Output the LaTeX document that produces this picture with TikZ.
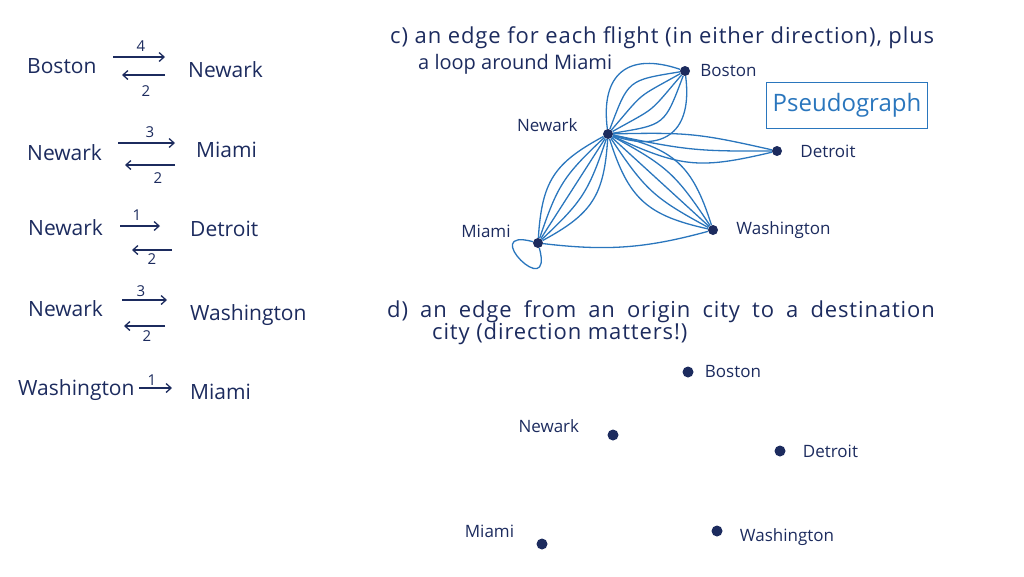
\documentclass[tikz,border=0pt]{standalone}
\usepackage{fontspec}
\setmainfont{Open Sans}
\newfontfamily\hand[LetterSpace=4]{Open Sans}
\usetikzlibrary{positioning, arrows.meta}
\definecolor{ink}{HTML}{1C2B5E}
\definecolor{pen}{HTML}{2A76BD}

\tikzset{
	city/.style={font=\fontsize{21}{24}\selectfont, text=ink, inner sep=0pt, anchor=west},
	num/.style={font=\fontsize{15}{16}\selectfont, text=ink, inner sep=1pt},
	flight/.style={ink, line width=1.3pt, -{Straight Barb[length=5pt, width=9pt]}},
	place/.style={font=\fontsize{17}{19}\selectfont, text=ink, inner sep=0pt},
	note/.style={font=\hand\fontsize{22}{24}\selectfont, text=ink, inner sep=0pt, anchor=west},
	vert/.style={circle, fill=ink, inner sep=0pt, minimum size=10pt},
	dot/.style={circle, fill=ink, inner sep=0pt, minimum size=11pt},
	multi/.style={pen, line width=1.3pt},
}

\begin{document}
\begin{tikzpicture}[x=1pt, y=-1pt]
	\useasboundingbox (0,0) rectangle (1024,576);

	%flights
	\node[city] (bos1) at (27,66) {Boston};
	\node[city] (new1) at (188,70) {Newark};
	\node[num] (f1) at (141,46) {4};
	\node[num] (b1) at (146,91) {2};
	\draw[flight] ([shift={(-28,11)}]f1.center) -- ([shift={(24,11)}]f1.center);
	\draw[flight] ([shift={(19,-16)}]b1.center) -- ([shift={(-24,-16)}]b1.center);

	\node[city] (new2) at (27,153) {Newark};
	\node[city] (mia2) at (196,150) {Miami};
	\node[num] (f2) at (150,132) {3};
	\node[num] (b2) at (158,178) {2};
	\draw[flight] ([shift={(-32,11)}]f2.center) -- ([shift={(25,11)}]f2.center);
	\draw[flight] ([shift={(17,-13)}]b2.center) -- ([shift={(-33,-13)}]b2.center);

	\node[city] (new3) at (28,228) {Newark};
	\node[city] (det3) at (190,229) {Detroit};
	\node[num] (f3) at (137,215) {1};
	\node[num] (b3) at (152,259) {2};
	\draw[flight] ([shift={(-17,11)}]f3.center) -- ([shift={(23,11)}]f3.center);
	\draw[flight] ([shift={(20,-9)}]b3.center) -- ([shift={(-20,-9)}]b3.center);

	\node[city] (new4) at (28,309) {Newark};
	\node[city] (was4) at (190,315) {Washington};
	\node[num] (f4) at (141,291) {3};
	\node[num] (b4) at (147,336) {2};
	\draw[flight] ([shift={(-19,9)}]f4.center) -- ([shift={(26,9)}]f4.center);
	\draw[flight] ([shift={(18,-10)}]b4.center) -- ([shift={(-23,-10)}]b4.center);

	\node[city] (was5) at (18,390) {Washington};
	\node[city] (mia5) at (190,392) {Miami};
	\node[num] (f5) at (152,380) {1};
	\draw[flight] ([shift={(-13,8)}]f5.center) -- ([shift={(20,8)}]f5.center);

	%part c
	\node[note] (partc) at (390,38) {c) an edge for each flight (in either direction), plus};
	\node[note, font=\fontsize{20}{22}\selectfont] (partc2) at (418,64) {a loop around Miami};
	\node[draw=pen, thick, text=pen, font=\fontsize{24}{26}\selectfont, minimum width=161, minimum height=46] (pseudo) at (847,105) {Pseudograph};

	\node[vert] (bos) at (685,71) {};
	\node[vert] (nwk) at (608,134) {};
	\node[vert] (det) at (777,151) {};
	\node[vert] (mia) at (538,243) {};
	\node[vert] (was) at (713,230) {};
	\node[place, right=10pt of bos] {Boston};
	\node[place, left=25pt of nwk, yshift=9pt] {Newark};
	\node[place, right=18pt of det] {Detroit};
	\node[place, left=22pt of mia, yshift=12pt] {Miami};
	\node[place, right=18pt of was] {Washington};

	\foreach \b in {-58,-30,-10,10,30,58}
		\draw[multi] (nwk) to[bend left=\b, looseness=1.5] (bos);
	\foreach \b in {-29,-14,0,14,29}
		\draw[multi] (nwk) to[bend left=\b, looseness=1.2] (mia);
	\foreach \b in {-30,-14,0,14,30}
		\draw[multi] (nwk) to[bend left=\b, looseness=1.2] (was);
	\foreach \b in {7,-6,-19}
		\draw[multi] (nwk) to[bend left=\b, looseness=1.2] (det);
	\draw[multi] (mia) to[bend right=11] (was);
	\draw[multi] (mia) to[out=165, in=285, min distance=58] (mia);

	%part d
	\node[note] (partd) at (387,312) {\spaceskip=0.55em d) an edge from an origin city to a destination};
	\node[note] (partd2) at (432,334) {city (direction matters!)};

	\node[dot] (bosd) at (688,372) {};
	\node[dot] (nwkd) at (613,435) {};
	\node[dot] (detd) at (780,451) {};
	\node[dot] (miad) at (542,544) {};
	\node[dot] (wasd) at (717,531) {};
	\node[place, right=11pt of bosd] {Boston};
	\node[place, left=28pt of nwkd, yshift=9pt] {Newark};
	\node[place, right=17pt of detd] {Detroit};
	\node[place, left=22pt of miad, yshift=13pt] {Miami};
	\node[place, right=17pt of wasd, yshift=-6pt] {Washington};
\end{tikzpicture}
\end{document}
